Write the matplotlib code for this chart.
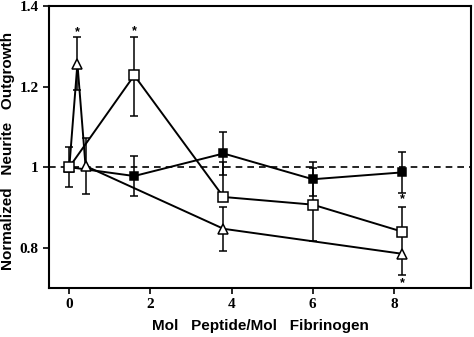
import matplotlib
matplotlib.use("Agg")
import matplotlib.pyplot as plt

# Filled squares
x_filled = [0, 1.6, 3.8, 6, 8.2]
y_filled = [1.0, 0.978, 1.034, 0.970, 0.987]
e_filled = [0.05, 0.05, 0.053, 0.042, 0.05]

# Open squares (lower / upper error)
x_open = [0, 1.6, 3.8, 6, 8.2]
y_open = [1.0, 1.228, 0.926, 0.907, 0.840]
e_open_lo = [0.0, 0.10, 0.0, 0.09, 0.0]
e_open_hi = [0.0, 0.095, 0.087, 0.09, 0.06]

# Open triangles
x_tri = [0, 0.2, 0.4, 3.8, 8.2]
y_tri = [1.0, 1.257, 1.003, 0.847, 0.785]
e_tri = [0.0, 0.065, 0.07, 0.055, 0.053]

# significance markers
star_x = [0.2, 1.6, 8.2, 8.2]
star_y = [1.336, 1.337, 0.92, 0.711]

xticks = [0, 2, 4, 6, 8]
yticks = [0.8, 1.0, 1.2, 1.4]
ytick_labels = ["0.8", "1", "1.2", "1.4"]

fig = plt.figure(figsize=(4.74, 3.37), dpi=100)
ax = fig.add_axes([0.1034, 0.1454, 0.8903, 0.8366])

ax.axhline(1.0, color="black", linestyle=(0, (4, 3)), linewidth=1.2, zorder=1)

common = dict(color="black", linewidth=1.4, capsize=3, elinewidth=1.1,
              capthick=1.4, markeredgewidth=1.1)
ax.errorbar(x_filled, y_filled, yerr=e_filled, marker="s", markersize=6,
            markerfacecolor="black", zorder=3, **common)
ax.errorbar(x_tri, y_tri, yerr=e_tri, marker="^", markersize=7,
            markerfacecolor="white", zorder=4, **common)
ax.errorbar(x_open, y_open, yerr=[e_open_lo, e_open_hi], marker="s",
            markersize=6.5, markerfacecolor="white", zorder=5, **common)

for sx, sy in zip(star_x, star_y):
    ax.text(sx, sy, "*", ha="center", va="center", fontsize=9,
            fontweight="bold", family="Liberation Sans")

ax.set_xlim(-0.5, 9.9)
ax.set_ylim(0.7, 1.4)
ax.set_xticks(xticks)
ax.set_yticks(yticks)
ax.set_yticklabels(ytick_labels)
for lab in ax.get_xticklabels() + ax.get_yticklabels():
    lab.set_family("Liberation Serif")
    lab.set_fontweight("bold")
    lab.set_fontsize(11)
ax.tick_params(direction="out", length=4, width=1.2)
for sp in ax.spines.values():
    sp.set_linewidth(1.5)

ax.set_xlabel("Mol   Peptide/Mol   Fibrinogen", family="Liberation Sans",
              fontweight="bold", fontsize=11)
ax.xaxis.set_label_coords(0.5, -0.11)
ax.set_ylabel("Normalized   Neurite   Outgrowth", family="Liberation Sans",
              fontweight="bold", fontsize=11)
ax.yaxis.set_label_coords(-0.08, 0.486)

fig.savefig("out.png", dpi=100)
